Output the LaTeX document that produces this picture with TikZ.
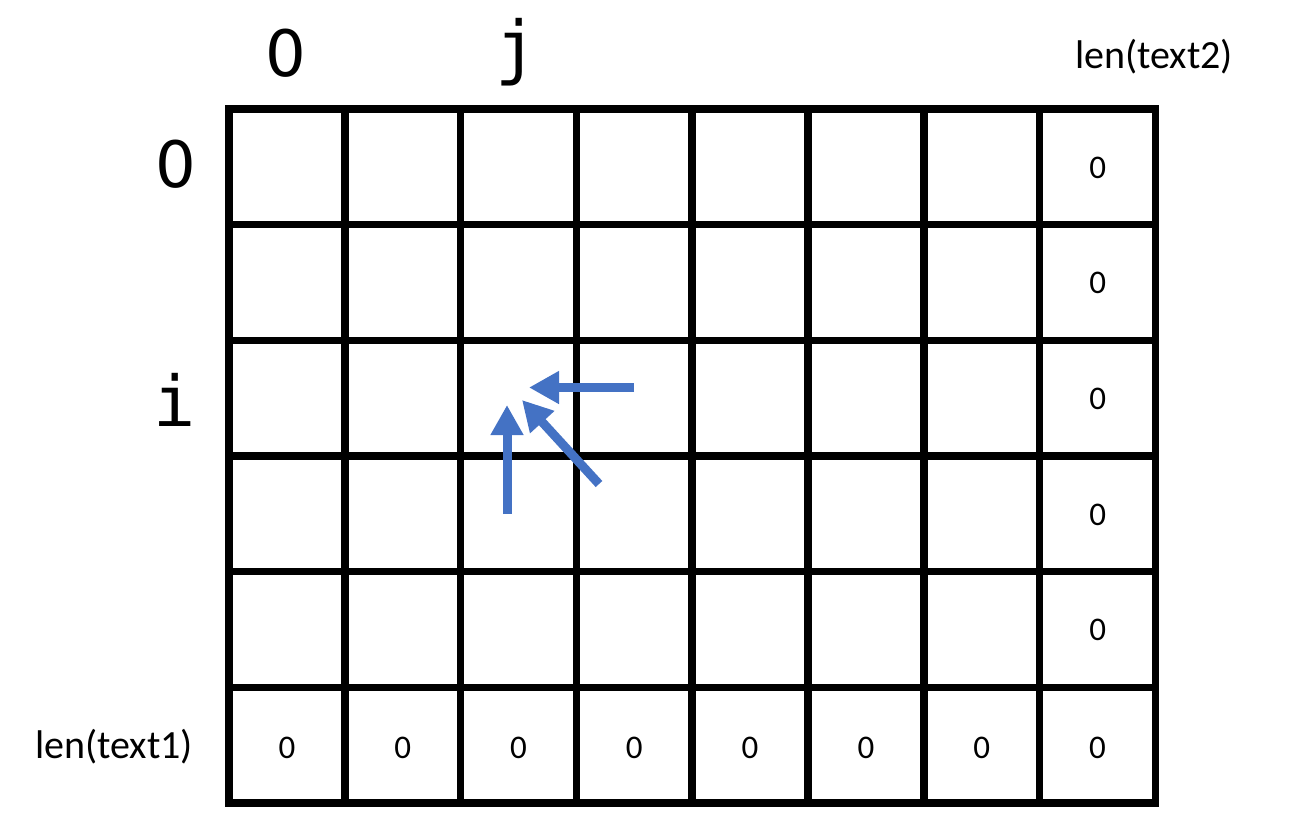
\documentclass[tikz,border=0pt]{standalone}
\usepackage{fontspec}
\setmainfont{Carlito}
\newfontfamily\monofnt{DejaVu Sans Mono}
\newfontfamily\digitfnt{DejaVu Sans}
\usetikzlibrary{arrows.meta}
\definecolor{arrblue}{HTML}{4472C4}
\begin{document}
\begin{tikzpicture}[x=1pt,y=-1pt,
  gridline/.style={line width=7.5pt,line cap=rect},
  celltxt/.style={font=\fontsize{33}{33}\selectfont,inner sep=0pt},
  lentxt/.style={font=\fontsize{40}{40}\selectfont,inner sep=0pt},
  idxtxt/.style={font=\monofnt\fontsize{70}{70}\selectfont,inner sep=0pt},
  idxnum/.style={font=\digitfnt\fontsize{64}{64}\selectfont,inner sep=0pt},
  blarrow/.style={draw=arrblue,line width=9pt,-{Triangle[length=30pt,width=31pt]}}]
\useasboundingbox (0,0) rectangle (1297,831);
% grid
\foreach \k in {0,...,8} {
  \draw[gridline] ({229+\k*115.8},109) -- ({229+\k*115.8},803);
}
\foreach \k in {0,...,6} {
  \draw[gridline] (229,{109+\k*115.67}) -- (1155.5,{109+\k*115.67});
}
% bottom row zeros
\foreach \k in {0,...,7} {
  \node[celltxt] (b\k) at ({286.9+\k*115.8},747.5) {0};
}
% right column zeros
\foreach \k in {0,...,4} {
  \node[celltxt] (r\k) at (1097.6,{167.5+\k*115.67}) {0};
}
% labels
\node[lentxt] (len1) at (114,747) {len(text1)};
\node[lentxt] (len2) at (1154,57) {len(text2)};
\node[idxnum] (top0) at (286,53) {0};
\node[idxtxt,anchor=base] (topj) at (517,71) {j};
\node[idxnum] (left0) at (176,164) {0};
\node[idxtxt,anchor=base] (lefti) at (175,426) {i};
% arrows
\coordinate (h0) at (634,387.5);
\coordinate (h1) at (529,387.5);
\coordinate (v0) at (507,514);
\coordinate (v1) at (507,405);
\coordinate (d0) at (599,484);
\coordinate (d1) at (522,400);
\draw[blarrow] (h0) -- (h1);
\draw[blarrow] (v0) -- (v1);
\draw[blarrow] (d0) -- (d1);
\end{tikzpicture}
\end{document}
